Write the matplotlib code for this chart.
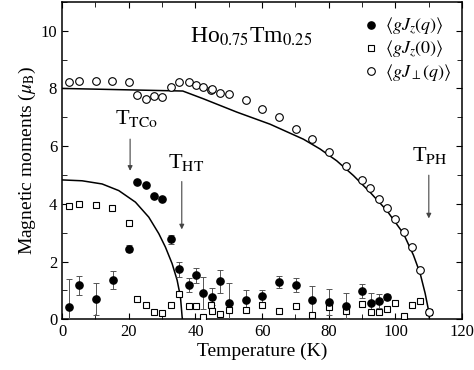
import matplotlib
matplotlib.use('Agg')
import matplotlib.pyplot as plt
from matplotlib.ticker import MultipleLocator

plt.rcParams['font.family'] = ['Liberation Serif', 'DejaVu Serif']
plt.rcParams['mathtext.fontset'] = 'stix'

# <gJz(q)>  (filled circles)
t_zq = [2.2, 5.2, 10.2, 15.2, 20.1, 22.6, 25.1, 27.6, 30.1, 32.6, 35.1, 38.1, 40.1,
        42.4, 44.9, 47.4, 50.1, 55.1, 59.9, 65.1, 70.1, 75.1, 80.1, 85.1, 90.1,
        92.6, 95.1, 97.4]
m_zq = [0.41, 1.18, 0.71, 1.36, 2.45, 4.77, 4.65, 4.29, 4.18, 2.77, 1.73, 1.18, 1.52,
        0.92, 0.78, 1.32, 0.55, 0.67, 0.81, 1.30, 1.18, 0.67, 0.59, 0.47, 0.99,
        0.55, 0.64, 0.78]
e_zq = [1.0, 0.33, 0.55, 0.3, 0.12, 0.0, 0.0, 0.0, 0.0, 0.15, 0.25, 0.25, 0.25,
        0.55, 0.3, 0.4, 0.7, 0.35, 0.2, 0.2, 0.25, 0.5, 0.45, 0.45, 0.25,
        0.35, 0.25, 0.1]

# <gJz(0)>  (open squares)
t_z0 = [2.1, 5.1, 10.1, 15.1, 20.1, 22.6, 25.1, 27.6, 30.1, 32.6, 35.1, 38.1, 40.1,
        42.4, 44.6, 45.1, 47.4, 50.1, 55.1, 59.9, 65.1, 70.1, 75.1, 80.1, 85.1,
        90.1, 92.6, 95.1, 97.4, 100.0, 102.5, 105.0, 107.5, 110.2]
m_z0 = [3.94, 3.98, 3.95, 3.86, 3.34, 0.72, 0.49, 0.26, 0.21, 0.49, 0.86, 0.46, 0.47,
        0.07, 0.49, 0.30, 0.17, 0.32, 0.32, 0.49, 0.30, 0.46, 0.15, 0.43, 0.29,
        0.53, 0.24, 0.26, 0.34, 0.55, 0.12, 0.49, 0.64, 0.26]

# <gJ_perp(q)>  (open circles)
t_pq = [2.1, 5.1, 10.1, 15.0, 20.1, 22.6, 25.1, 27.6, 30.1, 32.6, 35.1, 38.1, 40.1,
        42.4, 44.6, 45.1, 47.4, 50.1, 55.1, 60.1, 65.1, 70.1, 75.1, 80.1, 85.1,
        90.1, 92.5, 95.0, 97.5, 100.0, 102.5, 105.0, 107.5, 110.2]
m_pq = [8.22, 8.25, 8.26, 8.26, 8.22, 7.77, 7.64, 7.73, 7.70, 8.06, 8.24, 8.21, 8.11,
        8.04, 7.94, 7.99, 7.84, 7.79, 7.59, 7.28, 7.01, 6.59, 6.24, 5.81, 5.32,
        4.82, 4.54, 4.16, 3.86, 3.48, 3.04, 2.50, 1.70, 0.26]

# fitted lines
t_fit_hi = [0, 36.2, 42.4, 52.4, 62.4, 72.4, 77.4, 82.4, 87.4, 92.4, 97.4, 102.4,
            105.4, 107.4, 108.9, 110.0, 110.2]
m_fit_hi = [8.00, 7.91, 7.64, 7.18, 6.76, 6.24, 5.90, 5.49, 4.98, 4.40, 3.77, 2.97,
            2.22, 1.59, 0.90, 0.26, 0.0]
t_fit_lo = [0, 6, 12, 17, 22, 26, 29, 31, 33, 34.5, 35.5, 36.0, 36.1]
m_fit_lo = [4.83, 4.80, 4.69, 4.46, 4.06, 3.54, 2.97, 2.50, 1.93, 1.36, 0.78, 0.09, 0.0]

fig = plt.figure(figsize=(4.74, 3.7), dpi=100)
ax = fig.add_axes([0.131, 0.137, 0.844, 0.858])

ax.plot(t_fit_hi, m_fit_hi, color='black', lw=1.1)
ax.plot(t_fit_lo, m_fit_lo, color='black', lw=1.1)

h1 = ax.errorbar(t_zq, m_zq, yerr=e_zq, fmt='o', color='black', ms=5.2,
                 ecolor='#555555', elinewidth=0.7, capsize=2, capthick=0.7,
                 label=r'$\langle gJ_z(q)\rangle$', zorder=3)
h2, = ax.plot(t_z0, m_z0, 's', mfc='white', mec='black', ms=4.3, mew=0.8,
              label=r'$\langle gJ_z(0)\rangle$', zorder=3)
h3, = ax.plot(t_pq, m_pq, 'o', mfc='white', mec='black', ms=5.5, mew=0.8,
              label=r'$\langle gJ_\perp(q)\rangle$', zorder=3)

ax.text(38.5, 9.6, r'Ho$_{\rm 0.75}$Tm$_{\rm 0.25}$', fontsize=17)
ax.text(15.8, 6.77, r'T$_{\rm TCo}$', fontsize=16)
ax.text(31.8, 5.25, r'T$_{\rm HT}$', fontsize=16)
ax.text(105.0, 5.49, r'T$_{\rm PH}$', fontsize=16)

arrow = dict(arrowstyle='-|>', color='#444444', lw=0.8, mutation_scale=7)
ax.annotate('', xy=(20.4, 5.05), xytext=(20.4, 6.34), arrowprops=arrow)
ax.annotate('', xy=(35.9, 3.02), xytext=(35.9, 4.87), arrowprops=arrow)
ax.annotate('', xy=(110.0, 3.40), xytext=(110.0, 5.09), arrowprops=arrow)

ax.set_xlim(0, 120)
ax.set_ylim(0, 11)
ax.xaxis.set_major_locator(MultipleLocator(20))
ax.xaxis.set_minor_locator(MultipleLocator(10))
ax.yaxis.set_major_locator(MultipleLocator(2))
ax.yaxis.set_minor_locator(MultipleLocator(1))
ax.tick_params(which='both', direction='in', top=True, right=True, labelsize=12)
ax.tick_params(which='major', length=4)
ax.tick_params(which='minor', length=3.5)
for s in ax.spines.values():
    s.set_linewidth(1.1)

ax.set_xlabel('Temperature (K)', fontsize=14, labelpad=2)
ax.set_ylabel(r'Magnetic moments ($\mu_{\rm B}$)', fontsize=14, labelpad=2)

ax.legend([h1[0], h2, h3], [h1.get_label(), h2.get_label(), h3.get_label()],
          loc='upper right', bbox_to_anchor=(1.0, 0.99), frameon=False,
          fontsize=13, handletextpad=0.2, borderaxespad=0.2, labelspacing=0.12,
          handlelength=1.2)

fig.savefig('out.png', dpi=100)
